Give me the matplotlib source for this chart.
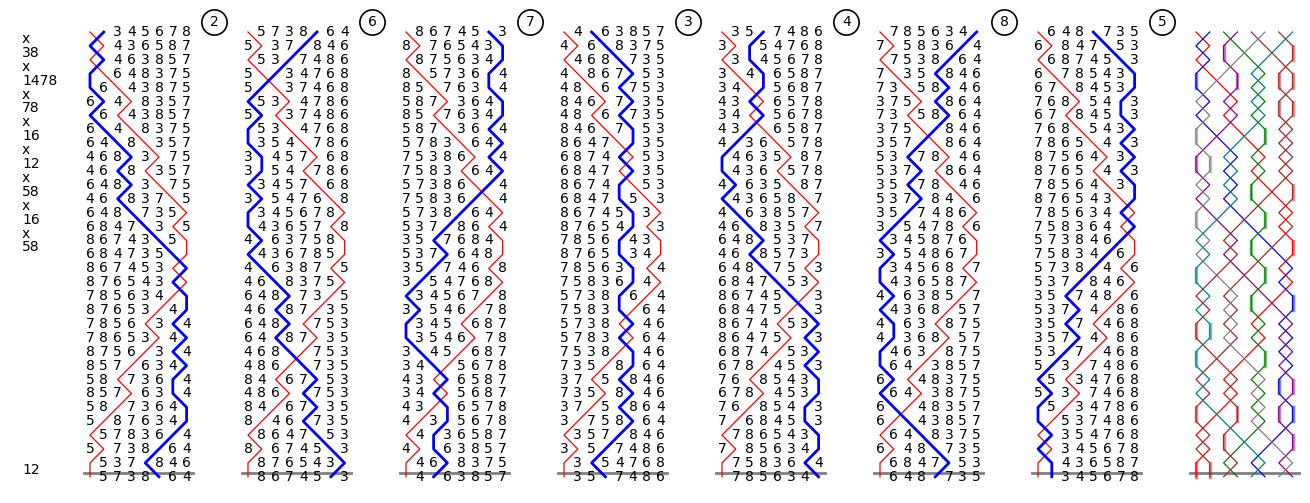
import matplotlib.pyplot as plt

###############################################################
# data
###############################################################
place_notation = ["x", "38", "x", "1478", "x", "78", "x", "16",
                  "x", "12", "x", "58", "x", "16", "x", "58"]
lead_end = "12"
n_bells = 8
n_leads = 7
lead_labels = [2, 6, 7, 3, 4, 8, 5]

# colours of each bell in the grid panel
bell_colours = {1: "red", 2: "blue", 3: "green", 4: "darkmagenta",
                5: "brown", 6: "gray", 7: "firebrick", 8: "teal"}

# full lead: half lead, mirror, lead end
changes = place_notation + place_notation[-2::-1] + [lead_end]


def apply_change(row, pn):
    places = [] if pn == "x" else [int(c) for c in pn]
    row = list(row)
    i = 1
    while i < n_bells:
        if i in places:
            i += 1
        else:
            row[i - 1], row[i] = row[i], row[i - 1]
            i += 2
    return row


###############################################################
# layout (pixels)
###############################################################
x0, dx, col_step = 90, 13.8, 158
y0, dy = 32, 13.9
fs = 10

fig = plt.figure(figsize=(13.10, 5.03), dpi=100)
ax = fig.add_axes([0, 0, 1, 1])
ax.set_xlim(0, 1310)
ax.set_ylim(503, 0)
ax.axis("off")

# left hand place notation labels
for i, pn in enumerate(changes):
    if i < len(place_notation) or i == len(changes) - 1:
        ax.text(22, y0 + (i + 0.5) * dy, pn, fontsize=fs, ha="left", va="center")

row = list(range(1, n_bells + 1))
for lead in range(n_leads + 1):
    rows = [row]
    for pn in changes:
        rows.append(apply_change(rows[-1], pn))
    cx = x0 + lead * col_step
    ys = [y0 + r * dy for r in range(len(rows))]

    # separator above the lead head
    sep_y = y0 + (len(rows) - 1.3) * dy
    ax.plot([cx - 6, cx + 7 * dx + 6], [sep_y, sep_y], color="gray", lw=2, zorder=1)

    def path(bell):
        return [cx + (r.index(bell)) * dx for r in rows]

    if lead < n_leads:
        for r_i, r in enumerate(rows):
            for p, bell in enumerate(r):
                if bell > 2:
                    ax.text(cx + p * dx, ys[r_i], str(bell), fontsize=fs,
                            ha="center", va="center")
        ax.plot(path(1), ys, color="red", lw=0.9, zorder=2)
        ax.plot(path(2), ys, color="blue", lw=2, zorder=2)
        circ_x = cx + 9 * dx
        ax.scatter([circ_x], [y0 - 10], s=330, facecolor="white",
                   edgecolor="black", lw=1.2, zorder=3)
        ax.text(circ_x, y0 - 10, str(lead_labels[lead]), fontsize=fs,
                ha="center", va="center", zorder=4)
    else:
        # grid panel of the plain lead
        for bell in range(1, n_bells + 1):
            xs = path(bell)
            ax.plot(xs, ys, color=bell_colours[bell], lw=0.9, zorder=2)
            for k in range(len(xs) - 1):
                if xs[k] == xs[k + 1]:
                    ax.plot(xs[k:k + 2], ys[k:k + 2], color=bell_colours[bell],
                            lw=2.5, alpha=0.5, zorder=2)
    row = rows[-1]

fig.savefig("out.png", dpi=100)
